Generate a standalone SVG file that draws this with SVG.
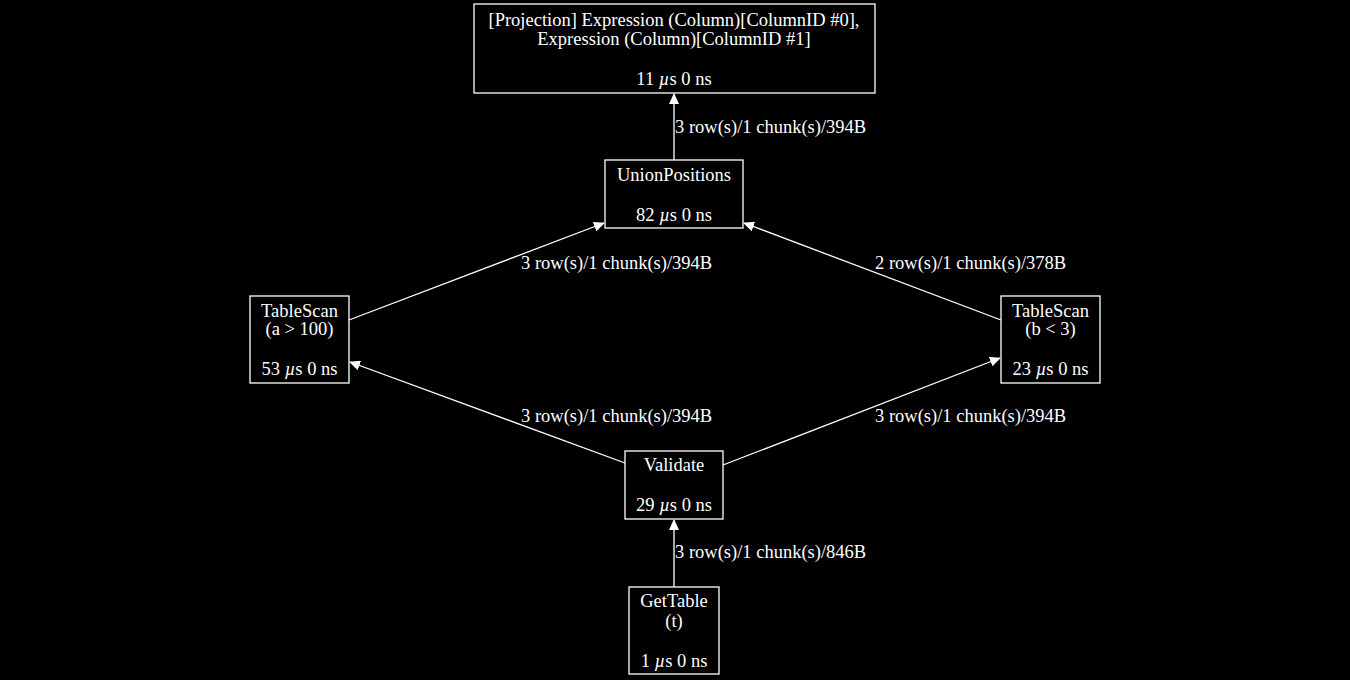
<svg xmlns="http://www.w3.org/2000/svg" width="1350" height="680" viewBox="0 0 1350 680">
<style>
text{font-family:"Liberation Serif","Times New Roman",serif;font-size:18.5px;fill:#fff}
.c{text-anchor:middle}
rect{fill:none;stroke:#fff;stroke-width:1.3}
line{stroke:#fff;stroke-width:1.3}
</style>
<defs><marker id="a" markerWidth="11" markerHeight="10" refX="10" refY="5" orient="auto" markerUnits="userSpaceOnUse"><path d="M0,0L11,5L0,10z" fill="#fff"/></marker></defs>
<rect x="0" y="0" width="1350" height="680" style="fill:#000;stroke:none"/>
<g id="edges">
<line x1="674" y1="587" x2="674" y2="520" marker-end="url(#a)"/>
<line x1="625" y1="463" x2="350" y2="362" marker-end="url(#a)"/>
<line x1="723" y1="465" x2="1000" y2="358" marker-end="url(#a)"/>
<line x1="349" y1="320" x2="604" y2="223" marker-end="url(#a)"/>
<line x1="1001" y1="320" x2="744" y2="223" marker-end="url(#a)"/>
<line x1="674" y1="160" x2="674" y2="94" marker-end="url(#a)"/>
<text x="675" y="558">3 row(s)/1 chunk(s)/846B</text>
<text x="521" y="422">3 row(s)/1 chunk(s)/394B</text>
<text x="875" y="422">3 row(s)/1 chunk(s)/394B</text>
<text x="521" y="269">3 row(s)/1 chunk(s)/394B</text>
<text x="875" y="269">2 row(s)/1 chunk(s)/378B</text>
<text x="675" y="133">3 row(s)/1 chunk(s)/394B</text>
</g>
<g id="projection"><rect x="474" y="4" width="401" height="89"/>
<text class="c" x="674" y="26">[Projection] Expression (Column)[ColumnID #0],</text>
<text class="c" x="674" y="45">Expression (Column)[ColumnID #1]</text>
<text class="c" x="674" y="85">11 <tspan font-style="italic">µ</tspan>s 0 ns</text></g>
<g id="union"><rect x="605" y="160" width="138" height="68"/>
<text class="c" x="674" y="181">UnionPositions</text>
<text class="c" x="674" y="221">82 <tspan font-style="italic">µ</tspan>s 0 ns</text></g>
<g id="scanA"><rect x="250" y="296" width="99" height="87"/>
<text class="c" x="299.500" y="317">TableScan</text>
<text class="c" x="299.500" y="335">(a &gt; 100)</text>
<text class="c" x="299.500" y="375">53 <tspan font-style="italic">µ</tspan>s 0 ns</text></g>
<g id="scanB"><rect x="1001" y="296" width="99" height="87"/>
<text class="c" x="1050.500" y="317">TableScan</text>
<text class="c" x="1050.500" y="335">(b &lt; 3)</text>
<text class="c" x="1050.500" y="375">23 <tspan font-style="italic">µ</tspan>s 0 ns</text></g>
<g id="validate"><rect x="625" y="451" width="98" height="68"/>
<text class="c" x="674" y="471">Validate</text>
<text class="c" x="674" y="511">29 <tspan font-style="italic">µ</tspan>s 0 ns</text></g>
<g id="gettable"><rect x="629" y="587" width="90" height="87"/>
<text class="c" x="674" y="607">GetTable</text>
<text class="c" x="674" y="627">(t)</text>
<text class="c" x="674" y="667">1 <tspan font-style="italic">µ</tspan>s 0 ns</text></g>
</svg>
